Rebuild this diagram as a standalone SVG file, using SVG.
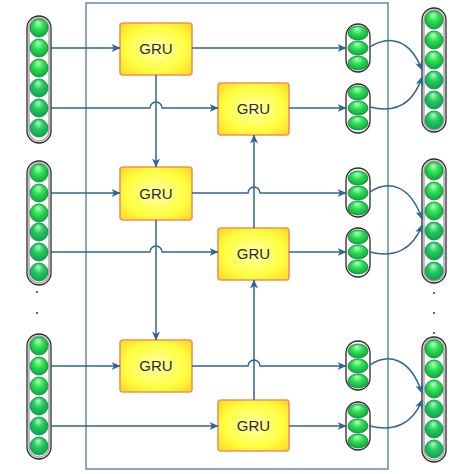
<svg xmlns="http://www.w3.org/2000/svg" width="474" height="474" viewBox="0 0 474 474">
<style>
.cap{fill:#ffffff;stroke:#2a2a2a;stroke-width:1.3}
.capin{fill:none;stroke:#a8a8a8;stroke-width:1.5}
.c1{fill:url(#gb);stroke:#17803e;stroke-width:0.8}
.c2{fill:url(#gt);stroke:#17804e;stroke-width:0.8}
.gru{fill:url(#gy);stroke:#f0905a;stroke-width:1.6}
.lbl{font-family:"Liberation Sans",Arial,sans-serif;font-size:15px;fill:#2a2a2a;text-anchor:middle}
.ln{fill:none;stroke:#2f6496;stroke-width:1.5}
.frame{fill:none;stroke:#4d7aa3;stroke-width:1.3}
.dot{fill:#333}
</style>
<defs>
<radialGradient id="gb" cx="0.5" cy="0.45" r="0.6" fx="0.45" fy="0.2">
<stop offset="0" stop-color="#b8ffc8"/>
<stop offset="0.45" stop-color="#2fe050"/>
<stop offset="1" stop-color="#0aa040"/>
</radialGradient>
<radialGradient id="gt" cx="0.5" cy="0.45" r="0.6" fx="0.45" fy="0.2">
<stop offset="0" stop-color="#b8f8cc"/>
<stop offset="0.45" stop-color="#24cc5c"/>
<stop offset="1" stop-color="#0e9a50"/>
</radialGradient>
<radialGradient id="gy" cx="0.5" cy="0.5" r="0.7">
<stop offset="0" stop-color="#ffffa8"/>
<stop offset="0.6" stop-color="#ffff40"/>
<stop offset="1" stop-color="#ffd820"/>
</radialGradient>
<marker id="ar" markerWidth="9" markerHeight="8" refX="8.5" refY="4" orient="auto" markerUnits="userSpaceOnUse">
<path d="M0,0 L9,4 L0,8 L2.5,4 Z" fill="#2f6496"/>
</marker>
</defs>

<rect class="frame" x="86" y="3" width="302" height="466"/>

<g id="in1">
<rect class="cap" x="27" y="16" width="24" height="127" rx="12"/>
<rect class="capin" x="29" y="18" width="20" height="123" rx="10"/>
<circle class="c1" cx="39" cy="28" r="9"/><circle class="c1" cx="39" cy="48" r="9"/><circle class="c1" cx="39" cy="68" r="9"/>
<circle class="c2" cx="39" cy="88" r="9"/><circle class="c2" cx="39" cy="108" r="9"/><circle class="c2" cx="39" cy="128" r="9"/>
</g>
<g id="in2">
<rect class="cap" x="27" y="161" width="24" height="124" rx="12"/>
<rect class="capin" x="29" y="163" width="20" height="120" rx="10"/>
<circle class="c1" cx="39" cy="173" r="9"/><circle class="c1" cx="39" cy="193" r="9"/><circle class="c1" cx="39" cy="213" r="9"/>
<circle class="c2" cx="39" cy="232" r="9"/><circle class="c2" cx="39" cy="252" r="9"/><circle class="c2" cx="39" cy="272" r="9"/>
</g>
<g id="in3">
<rect class="cap" x="27" y="334" width="24" height="125" rx="12"/>
<rect class="capin" x="29" y="336" width="20" height="121" rx="10"/>
<circle class="c1" cx="39" cy="346" r="9"/><circle class="c1" cx="39" cy="366" r="9"/><circle class="c1" cx="39" cy="386" r="9"/>
<circle class="c2" cx="39" cy="406" r="9"/><circle class="c2" cx="39" cy="426" r="9"/><circle class="c2" cx="39" cy="446" r="9"/>
</g>
<g id="dotsL">
<circle class="dot" cx="37" cy="292" r="1"/><circle class="dot" cx="37" cy="313" r="1"/>
</g>

<g id="gruL1"><rect class="gru" x="120" y="23" width="72" height="52" rx="3"/><text class="lbl" x="156" y="54">GRU</text></g>
<g id="gruL2"><rect class="gru" x="120" y="167" width="72" height="53" rx="3"/><text class="lbl" x="156" y="199">GRU</text></g>
<g id="gruL3"><rect class="gru" x="120" y="340" width="72" height="52" rx="3"/><text class="lbl" x="156" y="371">GRU</text></g>
<g id="gruR1"><rect class="gru" x="218" y="83" width="71" height="52" rx="3"/><text class="lbl" x="253.5" y="114">GRU</text></g>
<g id="gruR2"><rect class="gru" x="218" y="228" width="71" height="52" rx="3"/><text class="lbl" x="253.5" y="259">GRU</text></g>
<g id="gruR3"><rect class="gru" x="218" y="400" width="71" height="51" rx="3"/><text class="lbl" x="253.5" y="431">GRU</text></g>

<g id="mid1">
<rect class="cap" x="346" y="24" width="24" height="48" rx="12"/>
<ellipse class="c1" cx="358" cy="33" rx="10" ry="7"/><ellipse class="c1" cx="358" cy="48" rx="10" ry="7"/><ellipse class="c1" cx="358" cy="63" rx="10" ry="7"/>
</g>
<g id="mid2">
<rect class="cap" x="346" y="84" width="24" height="49" rx="12"/>
<ellipse class="c1" cx="358" cy="93" rx="10" ry="7"/><ellipse class="c1" cx="358" cy="108" rx="10" ry="7"/><ellipse class="c1" cx="358" cy="123" rx="10" ry="7"/>
</g>
<g id="mid3">
<rect class="cap" x="346" y="168" width="24" height="49" rx="12"/>
<ellipse class="c1" cx="358" cy="178" rx="10" ry="7"/><ellipse class="c1" cx="358" cy="193" rx="10" ry="7"/><ellipse class="c1" cx="358" cy="208" rx="10" ry="7"/>
</g>
<g id="mid4">
<rect class="cap" x="346" y="228" width="24" height="49" rx="12"/>
<ellipse class="c1" cx="358" cy="237" rx="10" ry="7"/><ellipse class="c1" cx="358" cy="252" rx="10" ry="7"/><ellipse class="c1" cx="358" cy="267" rx="10" ry="7"/>
</g>
<g id="mid5">
<rect class="cap" x="346" y="341" width="24" height="49" rx="12"/>
<ellipse class="c1" cx="358" cy="351" rx="10" ry="7"/><ellipse class="c1" cx="358" cy="366" rx="10" ry="7"/><ellipse class="c1" cx="358" cy="381" rx="10" ry="7"/>
</g>
<g id="mid6">
<rect class="cap" x="346" y="402" width="24" height="48" rx="12"/>
<ellipse class="c1" cx="358" cy="411" rx="10" ry="7"/><ellipse class="c1" cx="358" cy="426" rx="10" ry="7"/><ellipse class="c1" cx="358" cy="441" rx="10" ry="7"/>
</g>

<g id="out1">
<rect class="cap" x="422" y="8" width="24" height="124" rx="12"/>
<rect class="capin" x="424" y="10" width="20" height="120" rx="10"/>
<circle class="c1" cx="434" cy="20" r="9"/><circle class="c1" cx="434" cy="40" r="9"/><circle class="c1" cx="434" cy="60" r="9"/>
<circle class="c2" cx="434" cy="80" r="9"/><circle class="c2" cx="434" cy="100" r="9"/><circle class="c2" cx="434" cy="120" r="9"/>
</g>
<g id="out2">
<rect class="cap" x="422" y="159" width="24" height="124" rx="12"/>
<rect class="capin" x="424" y="161" width="20" height="120" rx="10"/>
<circle class="c1" cx="434" cy="171" r="9"/><circle class="c1" cx="434" cy="191" r="9"/><circle class="c1" cx="434" cy="211" r="9"/>
<circle class="c2" cx="434" cy="231" r="9"/><circle class="c2" cx="434" cy="251" r="9"/><circle class="c2" cx="434" cy="271" r="9"/>
</g>
<g id="out3">
<rect class="cap" x="422" y="337" width="24" height="125" rx="12"/>
<rect class="capin" x="424" y="339" width="20" height="121" rx="10"/>
<circle class="c1" cx="434" cy="349" r="9"/><circle class="c1" cx="434" cy="369" r="9"/><circle class="c1" cx="434" cy="389" r="9"/>
<circle class="c2" cx="434" cy="409" r="9"/><circle class="c2" cx="434" cy="429" r="9"/><circle class="c2" cx="434" cy="449" r="9"/>
</g>
<g id="dotsR">
<circle class="dot" cx="434" cy="293" r="1"/><circle class="dot" cx="434" cy="313" r="1"/><circle class="dot" cx="434" cy="333" r="1"/>
</g>

<g id="connectors">
<path class="ln" d="M51,48 H120" marker-end="url(#ar)"/>
<path class="ln" d="M51,108 H150 A6,6 0 0 1 162,108 H218" marker-end="url(#ar)"/>
<path class="ln" d="M51,193 H120" marker-end="url(#ar)"/>
<path class="ln" d="M51,252 H150 A6,6 0 0 1 162,252 H218" marker-end="url(#ar)"/>
<path class="ln" d="M51,366 H120" marker-end="url(#ar)"/>
<path class="ln" d="M51,426 H218" marker-end="url(#ar)"/>

<path class="ln" d="M156,75 V167" marker-end="url(#ar)"/>
<path class="ln" d="M156,220 V340" marker-end="url(#ar)"/>
<path class="ln" d="M254,228 V135" marker-end="url(#ar)"/>
<path class="ln" d="M254,400 V280" marker-end="url(#ar)"/>

<path class="ln" d="M192,48 H346" marker-end="url(#ar)"/>
<path class="ln" d="M289,108 H346" marker-end="url(#ar)"/>
<path class="ln" d="M192,193 H248 A6,6 0 0 1 260,193 H346" marker-end="url(#ar)"/>
<path class="ln" d="M289,252 H346" marker-end="url(#ar)"/>
<path class="ln" d="M192,366 H248 A6,6 0 0 1 260,366 H346" marker-end="url(#ar)"/>
<path class="ln" d="M289,426 H346" marker-end="url(#ar)"/>

<path class="ln" d="M370,47 C388,35 410,38 422,70" marker-end="url(#ar)"/>
<path class="ln" d="M370,107 C394,113 413,105 422,77" marker-end="url(#ar)"/>
<path class="ln" d="M370,192 C388,180 410,184 422,219" marker-end="url(#ar)"/>
<path class="ln" d="M370,252 C394,258 413,250 422,225" marker-end="url(#ar)"/>
<path class="ln" d="M370,365 C388,353 410,357 422,393" marker-end="url(#ar)"/>
<path class="ln" d="M370,426 C394,432 413,424 422,400" marker-end="url(#ar)"/>
</g>
</svg>
